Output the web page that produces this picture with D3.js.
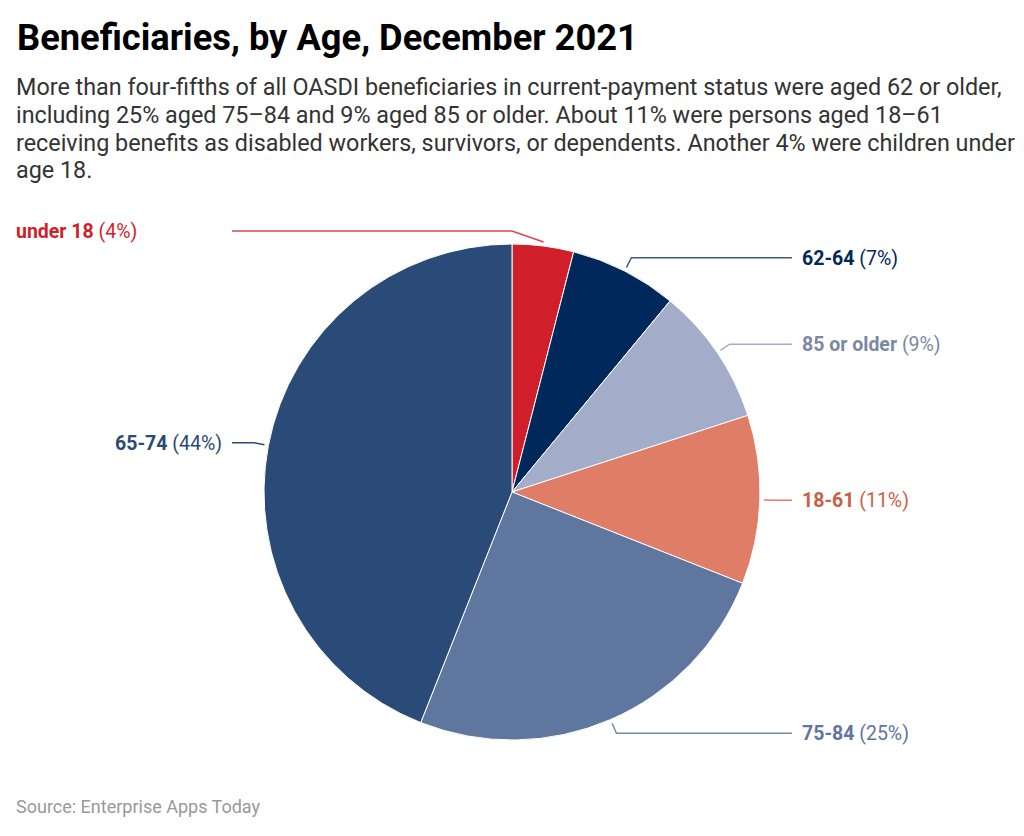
<!DOCTYPE html>
<html>
<head>
<meta charset="utf-8">
<script src="https://cdn.jsdelivr.net/npm/d3@7/dist/d3.min.js"></script>
<style>
  html, body { margin: 0; padding: 0; background: #fff; }
  svg { display: block; font-family: Roboto, "Noto Sans", sans-serif; }
</style>
</head>
<body>
<svg id="chart" width="1024" height="836"></svg>
<script>
// ---- data ----
const categories = ["under 18", "62-64", "85 or older", "18-61", "75-84", "65-74"];
const shares = [4, 7, 9, 11, 25, 44];
const sliceColors = ["#d01f2a", "#00285a", "#a3adc9", "#e07d66", "#5f769e", "#2a4a78"];
const labelColors = ["#d01f2a", "#00285a", "#7b87a5", "#c95f47", "#5f769e", "#2a4a78"];
const lineColors = ["#d9464f", "#3d5a82", "#a3adc9", "#e07d66", "#7689ad", "#2a4a78"];
const titleText = "Beneficiaries, by Age, December 2021";
const subtitleLines = [
  "More than four-fifths of all OASDI beneficiaries in current-payment status were aged 62 or older,",
  "including 25% aged 75\u201384 and 9% aged 85 or older. About 11% were persons aged 18\u201361",
  "receiving benefits as disabled workers, survivors, or dependents. Another 4% were children under",
  "age 18."
];
const sourceText = "Source: Enterprise Apps Today";

// ---- layout ----
const W = 1024, H = 836;
const cx = 512, cy = 492, r = 248;
const svg = d3.select("#chart");

svg.append("text")
  .attr("x", 17).attr("y", 50)
  .attr("font-size", 36.3).attr("font-weight", 700).attr("fill", "#000")
  .text(titleText);

svg.append("g").selectAll("text").data(subtitleLines).join("text")
  .attr("x", 16).attr("y", (d, i) => 95 + i * 27.8)
  .attr("font-size", 23.35).attr("fill", "#333")
  .text(d => d);

svg.append("text")
  .attr("x", 16).attr("y", 813)
  .attr("font-size", 18).attr("fill", "#999")
  .text(sourceText);

const data = categories.map((c, i) => ({ cat: c, value: shares[i], i }));
const pie = d3.pie().sort(null).value(d => d.value);
const arcs = pie(data);
const arc = d3.arc().innerRadius(0).outerRadius(r);

const g = svg.append("g").attr("transform", `translate(${cx},${cy})`);
g.selectAll("path").data(arcs).join("path")
  .attr("d", arc)
  .attr("fill", d => sliceColors[d.data.i])
  .attr("stroke", "#fff").attr("stroke-width", 1);

// label placement
const labelR = r + 15, touchR = r + 4, lineOut = 32, textGap = 10;
const items = arcs.map(d => {
  const mid = (d.startAngle + d.endAngle) / 2;
  return { d, mid, s: Math.sin(mid), c: Math.cos(mid), side: Math.sin(mid) >= 0 ? 1 : -1, cross: false };
});
// near-top / near-bottom labels go to the less crowded side
items.forEach(it => {
  if (Math.abs(it.s) < 0.15) {
    const others = items.filter(o => o !== it && Math.abs(o.s) >= 0.15);
    const nR = others.filter(o => o.side === 1).length;
    const nL = others.filter(o => o.side === -1).length;
    const newSide = nR > nL ? -1 : 1;
    if (newSide !== it.side) { it.side = newSide; it.cross = true; }
  }
  it.y = -labelR * it.c;
});
// simple overlap resolution per side
[1, -1].forEach(side => {
  const list = items.filter(it => it.side === side).sort((a, b) => a.y - b.y);
  for (let k = 1; k < list.length; k++) {
    if (list[k].y - list[k - 1].y < 26) list[k].y = list[k - 1].y + 26;
  }
});

const lg = g.append("g");
items.forEach(it => {
  const i = it.d.data.i;
  const tx = touchR * it.s, ty = -touchR * it.c;
  let bx = labelR * it.s;
  if (it.cross) bx = 0;
  const by = it.y;
  const ex = it.side * (r + lineOut);
  lg.append("path")
    .attr("d", d3.line()([[tx, ty], [bx, by], [ex, by]]))
    .attr("fill", "none")
    .attr("stroke", lineColors[i])
    .attr("stroke-width", 1.5);

  const t = lg.append("text")
    .attr("y", by).attr("dy", "0.35em")
    .attr("font-size", 19.5)
    .attr("fill", labelColors[i]);
  if (it.side === 1) {
    t.attr("x", ex + textGap).attr("text-anchor", "start");
  } else if (it.cross) {
    t.attr("x", 16 - cx).attr("text-anchor", "start");
  } else {
    t.attr("x", ex - textGap).attr("text-anchor", "end");
  }
  t.append("tspan").attr("font-weight", 700).text(it.d.data.cat);
  t.append("tspan").attr("font-weight", 400).text(` (${it.d.data.value}%)`);
});
</script>
</body>
</html>
